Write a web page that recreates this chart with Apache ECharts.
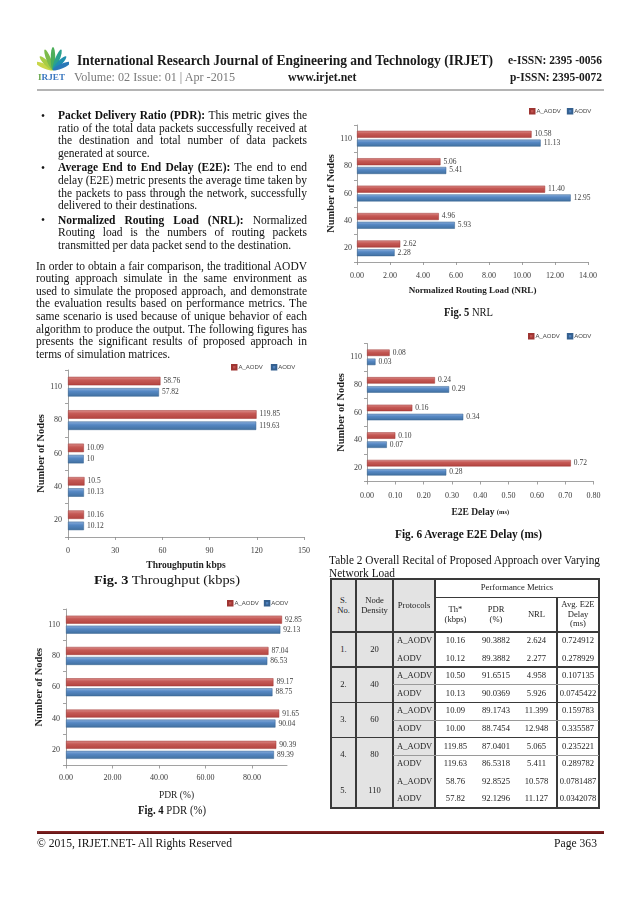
<!DOCTYPE html>
<html>
<head>
<meta charset="utf-8">
<title>IRJET page 363</title>
<script src="https://cdn.jsdelivr.net/npm/echarts/dist/echarts.min.js"></script>
<style>
html,body{margin:0;padding:0;background:#fff;}
#page{position:relative;width:638px;height:902px;overflow:hidden;background:#fff;font-family:'Liberation Serif','DejaVu Serif',serif;color:#141414;}
#chart{position:absolute;left:0;top:0;width:638px;height:902px;}
.t{position:absolute;white-space:nowrap;line-height:14px;height:14px;transform-origin:0 50%;}
.ln{position:absolute;white-space:nowrap;font-size:11.5px;line-height:13px;height:13px;transform-origin:0 50%;color:#111;}
.cell{position:absolute;display:flex;align-items:center;justify-content:center;text-align:center;font-size:8.6px;line-height:9.6px;color:#222;box-sizing:border-box;}
.rule{position:absolute;}
</style>
</head>
<body>
<div id="page">
  <div id="chart"></div>
  <svg id="logo" style="position:absolute;left:37px;top:42px" width="32" height="30" viewBox="0 0 32 30"></svg>
</div>
<script>
// ---------------- data ----------------
const nodeCats = ['20', '40', '60', '80', '110'];
const seriesNames = ['A_AODV', 'AODV'];

const thrA = [10.16, 10.5, 10.09, 119.85, 58.76];
const thrB = [10.12, 10.13, 10, 119.63, 57.82];
const pdrA = [90.39, 91.65, 89.17, 87.04, 92.85];
const pdrB = [89.39, 90.04, 88.75, 86.53, 92.13];
const nrlA = [2.62, 4.96, 11.40, 5.06, 10.58];
const nrlB = [2.28, 5.93, 12.95, 5.41, 11.13];
const e2eA = [0.72, 0.10, 0.16, 0.24, 0.08];
const e2eB = [0.28, 0.07, 0.34, 0.29, 0.03];

// value axis ranges (min 0, step, max)
const thrAxis = [0, 30, 150];
const pdrAxis = [0, 20, 95];
const nrlAxis = [0, 2, 14];
const e2eAxis = [0, 0.1, 0.8];

// table 2
const tblSNo = ['1.', '2.', '3.', '4.', '5.'];
const tblDensity = ['20', '40', '60', '80', '110'];
const tblProto = ['A_AODV', 'AODV'];
const tblTh = [['10.16','10.12'],['10.50','10.13'],['10.09','10.00'],['119.85','119.63'],['58.76','57.82']];
const tblPdr = [['90.3882','89.3882'],['91.6515','90.0369'],['89.1743','88.7454'],['87.0401','86.5318'],['92.8525','92.1296']];
const tblNrl = [['2.624','2.277'],['4.958','5.926'],['11.399','12.948'],['5.065','5.411'],['10.578','11.127']];
const tblE2e = [['0.724912','0.278929'],['0.107135','0.0745422'],['0.159783','0.335587'],['0.235221','0.289782'],['0.0781487','0.0342078']];

// ---------------- page text ----------------
const page = document.getElementById('page');
const SERIF = "'Liberation Serif','DejaVu Serif',serif";

function addText(html, x, yc, o) {
  o = o || {};
  const el = document.createElement('div');
  el.className = 't';
  el.innerHTML = html;
  el.style.fontSize = (o.size || 12) + 'px';
  if (o.weight) el.style.fontWeight = o.weight;
  if (o.color) el.style.color = o.color;
  if (o.family) el.style.fontFamily = o.family;
  el.style.top = (yc - 7) + 'px';
  el.style.left = '0px';
  page.appendChild(el);
  const nat = el.getBoundingClientRect().width;
  const w = o.w || nat;
  let left = x;
  if (o.align === 'center') left = x - w / 2;
  else if (o.align === 'right') left = x - w;
  el.style.left = left + 'px';
  if (o.w) el.style.transform = 'scaleX(' + (o.w / nat) + ')';
  return el;
}

function addLine(html, x, yc, w, last) {
  const el = document.createElement('div');
  el.className = 'ln';
  el.style.left = x + 'px';
  el.style.top = (yc - 6.5) + 'px';
  el.innerHTML = '<span>' + html + '</span>';
  page.appendChild(el);
  const nat = el.firstChild.getBoundingClientRect().width;
  if (last) {
    if (nat > w) el.style.transform = 'scaleX(' + (w / nat) + ')';
    return;
  }
  if (nat > w) {
    el.style.transform = 'scaleX(' + (w / nat) + ')';
  } else {
    const spaces = (el.textContent.match(/ /g) || []).length;
    if (spaces) el.firstChild.style.wordSpacing = ((w - nat) / spaces) + 'px';
  }
}

// header
addText('International Research Journal of Engineering and Technology (IRJET)', 77, 59.5, {size: 15, weight: 'bold', w: 416, color: '#1a1a1a'});
addText('e-ISSN: 2395 -0056', 508, 59.5, {size: 12, weight: 'bold', w: 94, color: '#1a1a1a'});
addText('Volume: 02 Issue: 01 | Apr -2015', 74, 77, {size: 12, w: 161, color: '#7a7a7a'});
addText('www.irjet.net', 287.5, 77, {size: 12, weight: 'bold', w: 68.5, color: '#1a1a1a'});
addText('p-ISSN: 2395-0072', 510, 77, {size: 12, weight: 'bold', w: 92, color: '#1a1a1a'});
addText('<span style="color:#6aa84f">I</span>RJET', 38, 77, {size: 9, weight: 'bold', w: 27, color: '#3b78c0'});

function rule(x, y, w, h, bg) {
  const d = document.createElement('div');
  d.className = 'rule';
  d.style.cssText = 'left:' + x + 'px;top:' + y + 'px;width:' + w + 'px;height:' + h + 'px;background:' + bg + ';';
  page.appendChild(d);
}
rule(37, 88.5, 567, 2, '#b4b4b4');
rule(37, 831, 567, 3.2, 'linear-gradient(#8e2a2a,#5a1010)');
addText('© 2015, IRJET.NET- All Rights Reserved', 37, 843, {size: 11.5, w: 195});
addText('Page 363', 597, 843, {size: 11.5, w: 43, align: 'right'});

// logo leaves
(function () {
  const svg = document.getElementById('logo');
  const cols = ['#c9d64a', '#a8cc45', '#7dbb4a', '#4dae5a', '#2aa18e', '#1f8fae', '#2a78b8'];
  const angs = [-66, -44, -22, 0, 22, 44, 66];
  let s = '';
  angs.forEach((a, i) => {
    const ry = i === 3 ? 11.5 : (i === 2 || i === 4 ? 11 : 9.5);
    s += '<ellipse cx="16" cy="' + (28 - ry) + '" rx="2.3" ry="' + ry + '" fill="' + cols[i] + '" transform="rotate(' + a + ' 16 28)"/>';
  });
  svg.innerHTML = s;
})();

// left column text
const L = 12.6;
function yAt(i) { return 115.5 + i * L + (i >= 4 ? 2 : 0) + (i >= 8 ? 2 : 0) + (i >= 11 ? 8 : 0); }
const bulletLines = [
  ['<b>Packet Delivery Ratio (PDR):</b> This metric gives the', 0],
  ['ratio of the total data packets successfully received at', 0],
  ['the destination and total number of data packets', 0],
  ['generated at source.', 1],
  ['<b>Average End to End Delay (E2E):</b> The end to end', 0],
  ['delay (E2E) metric presents the average time taken by', 0],
  ['the packets to pass through the network, successfully', 0],
  ['delivered to their destinations.', 1],
  ['<b>Normalized Routing Load (NRL):</b> Normalized', 0],
  ['Routing load is the numbers of routing packets', 0],
  ['transmitted per data packet send to the destination.', 1]
];
bulletLines.forEach((l, i) => addLine(l[0], 58, yAt(i), 249, l[1]));
[0, 4, 8].forEach(i => addText('&bull;', 41, yAt(i), {size: 11.5}));
const paraLines = [
  'In order to obtain a fair comparison, the traditional AODV',
  'routing approach simulate in the same environment as',
  'used to simulate the proposed approach, and demonstrate',
  'the evaluation results based on performance metrics. The',
  'same scenario is used because of unique behavior of each',
  'algorithm to produce the output. The following figures has',
  'presents the significant results of proposed approach in',
  'terms of simulation matrices.'
];
paraLines.forEach((l, i) => addLine(l, 36, yAt(11 + i), 271, i === paraLines.length - 1));

// captions
addText('<b>Fig. 3</b> Throughput (kbps)', 167, 580, {size: 12, w: 146, align: 'center'});
addText('<b>Fig. 4</b> PDR (%)', 172, 810, {size: 12, w: 68, align: 'center'});
addText('<b>Fig. 5</b> NRL', 468, 312, {size: 12, w: 49, align: 'center'});
addText('<b>Fig. 6 Average E2E Delay (ms)</b>', 468, 534, {size: 12, w: 147, align: 'center'});
addText('Table 2 Overall Recital of Proposed Approach over Varying', 329, 560, {size: 12, w: 271});
addText('Network Load', 329, 572.5, {size: 12, w: 66});

// ---------------- table ----------------
(function () {
  const cx = [331, 356, 393, 435, 476, 516, 557, 599];
  const yTop = 579, yMid = 597, yHead = 632, rh = 17.6;
  const GRAY = '#e3e3e3';
  function cell(x0, x1, y0, y1, html, bg, left) {
    const d = document.createElement('div');
    d.className = 'cell';
    d.style.cssText += 'left:' + x0 + 'px;top:' + y0 + 'px;width:' + (x1 - x0) + 'px;height:' + (y1 - y0) + 'px;' +
      (bg ? 'background:' + bg + ';' : '') + (left ? 'justify-content:flex-start;padding-left:4px;' : '');
    d.innerHTML = html;
    page.appendChild(d);
  }
  cell(cx[0], cx[1], yTop, yHead, 'S.<br>No.', GRAY);
  cell(cx[1], cx[2], yTop, yHead, 'Node<br>Density', GRAY);
  cell(cx[2], cx[3], yTop, yHead, 'Protocols', GRAY);
  cell(cx[3], cx[7], yTop, yMid, 'Performance Metrics');
  cell(cx[3], cx[4], yMid, yHead, 'Th*<br>(kbps)');
  cell(cx[4], cx[5], yMid, yHead, 'PDR<br>(%)');
  cell(cx[5], cx[6], yMid, yHead, 'NRL');
  cell(cx[6], cx[7], yMid, yHead, 'Avg. E2E<br>Delay<br>(ms)');
  for (let g = 0; g < 5; g++) {
    const gy = yHead + g * 2 * rh;
    cell(cx[0], cx[1], gy, gy + 2 * rh, tblSNo[g], GRAY);
    cell(cx[1], cx[2], gy, gy + 2 * rh, tblDensity[g], GRAY);
    for (let r = 0; r < 2; r++) {
      const y0 = gy + r * rh, y1 = y0 + rh;
      cell(cx[2], cx[3], y0, y1, tblProto[r], GRAY, true);
      cell(cx[3], cx[4], y0, y1, tblTh[g][r]);
      cell(cx[4], cx[5], y0, y1, tblPdr[g][r]);
      cell(cx[5], cx[6], y0, y1, tblNrl[g][r]);
      cell(cx[6], cx[7], y0, y1, tblE2e[g][r]);
    }
  }
  const D = '#3a3a3a', Lg = '#9a9a9a';
  const yEnd = yHead + 10 * rh;
  // outer frame
  rule(cx[0] - 0.75, yTop - 0.75, cx[7] - cx[0] + 1.5, 1.5, D);
  rule(cx[0] - 0.75, yEnd - 0.75, cx[7] - cx[0] + 1.5, 1.5, D);
  rule(cx[0] - 0.75, yTop - 0.75, 1.5, yEnd - yTop + 1.5, D);
  rule(cx[7] - 0.75, yTop - 0.75, 1.5, yEnd - yTop + 1.5, D);
  // verticals
  [cx[1], cx[2], cx[3]].forEach(x => rule(x - 0.6, yTop, 1.2, yEnd - yTop, D));
  rule(cx[6] - 0.6, yMid, 1.2, yEnd - yMid, D);
  // horizontals
  rule(cx[3], yMid - 0.5, cx[7] - cx[3], 1, D);
  rule(cx[0], yHead - 0.75, cx[7] - cx[0], 1.5, D);
  [1, 2, 3].forEach(g => rule(cx[0], yHead + g * 2 * rh - 0.75, cx[7] - cx[0], 1.5, D));
  [1, 2, 3].forEach(g => rule(cx[2], yHead + (g * 2 + 1) * rh - 0.5, cx[7] - cx[2], 1, Lg));
})();

// ---------------- charts ----------------
const RED = '#C0504D', BLUE = '#4F81BD';
function barFill(c) {
  const stops = c === RED
    ? ['#dc8e8b', '#c55955', '#b3433f']
    : ['#8db0dc', '#5587c3', '#41709f'];
  return {type: 'linear', x: 0, y: 0, x2: 0, y2: 1,
    colorStops: [{offset: 0, color: stops[0]}, {offset: 0.4, color: stops[1]}, {offset: 1, color: stops[2]}]};
}

const panels = [
  {a: thrA, b: thrB, ax: thrAxis, tickDec: -1, labDec: -1, hideMax: false,
   xName: 'Throughputin kbps', xNameStyle: {fontSize: 9.5, fontWeight: 'bold'},
   grid: {left: 68, top: 370, width: 236, height: 167}, legend: {left: 231, top: 364, gap: 8},
   barWidth: 8.5, barGap: '32%', yNameGap: 19.5, yLabMargin: 6, xLabMargin: 10, xNameGap: 24},
  {a: pdrA, b: pdrB, ax: pdrAxis, tickDec: 2, labDec: 2, hideMax: true,
   xName: 'PDR (%)', xNameStyle: {fontSize: 9.5, fontWeight: 'normal'},
   grid: {left: 66, top: 609, width: 221, height: 156.5}, legend: {left: 227, top: 600, gap: 5},
   barWidth: 8, barGap: '25%', yNameGap: 17, yLabMargin: 6, xLabMargin: 8, xNameGap: 25},
  {a: nrlA, b: nrlB, ax: nrlAxis, tickDec: 2, labDec: 2, hideMax: false,
   xName: 'Normalized Routing Load (NRL)', xNameStyle: {fontSize: 9, fontWeight: 'bold'},
   grid: {left: 357, top: 125, width: 231, height: 137}, legend: {left: 529, top: 108, gap: 6},
   barWidth: 7, barGap: '25%', yNameGap: 16.5, yLabMargin: 5, xLabMargin: 10, xNameGap: 24},
  {a: e2eA, b: e2eB, ax: e2eAxis, tickDec: 2, labDec: 2, hideMax: false,
   xName: '{a|E2E Delay }{b|(ms)}', xNameStyle: {rich: {a: {fontSize: 9.5, fontWeight: 'bold', fontFamily: SERIF, color: '#1e1e1e'}, b: {fontSize: 6.5, fontWeight: 'bold', fontFamily: SERIF, color: '#1e1e1e'}}},
   grid: {left: 367, top: 343.5, width: 226.5, height: 138}, legend: {left: 528, top: 333, gap: 7},
   barWidth: 6.5, barGap: '40%', yNameGap: 17.5, yLabMargin: 5, xLabMargin: 10, xNameGap: 26}
];

const grids = [], xAxes = [], yAxes = [], series = [], legends = [];
const axisCol = '#8a8a8a';
panels.forEach((p, i) => {
  grids.push(Object.assign({containLabel: false, outerBoundsMode: 'none'}, p.grid));
  xAxes.push({
    gridIndex: i, type: 'value', min: p.ax[0], interval: p.ax[1], max: p.ax[2],
    axisLine: {show: true, lineStyle: {color: axisCol, width: 0.8}},
    axisTick: {show: true, length: 3, lineStyle: {color: axisCol, width: 0.8}},
    splitLine: {show: false},
    axisLabel: {fontSize: 8, color: '#3a3a3a', fontFamily: SERIF, margin: p.xLabMargin, showMaxLabel: !p.hideMax,
      formatter: v => p.tickDec >= 0 ? v.toFixed(p.tickDec) : String(v)},
    name: p.xName, nameLocation: 'middle', nameGap: p.xNameGap,
    nameTextStyle: Object.assign({fontFamily: SERIF, color: '#1e1e1e'}, p.xNameStyle)
  });
  yAxes.push({
    gridIndex: i, type: 'category', data: nodeCats,
    axisLine: {show: true, lineStyle: {color: axisCol, width: 0.8}},
    axisTick: {show: true, length: 3, lineStyle: {color: axisCol, width: 0.8}},
    axisLabel: {fontSize: 8, color: '#3a3a3a', fontFamily: SERIF, margin: p.yLabMargin},
    name: 'Number of Nodes', nameLocation: 'middle', nameRotate: 90, nameGap: p.yNameGap,
    nameTextStyle: {fontSize: 10.5, fontWeight: 'bold', fontFamily: SERIF, color: '#1e1e1e'}
  });
  [[p.a, RED, '#9e3532'], [p.b, BLUE, '#35608f']].forEach((s, k) => {
    series.push({
      type: 'bar', name: seriesNames[k], xAxisIndex: i, yAxisIndex: i, data: s[0],
      barWidth: p.barWidth, barGap: p.barGap,
      itemStyle: {color: barFill(s[1]), borderColor: s[2], borderWidth: 0.5},
      label: {show: true, position: 'right', distance: 3, fontSize: 7.5, color: '#404040', fontFamily: SERIF,
        formatter: d => p.labDec >= 0 ? d.value.toFixed(p.labDec) : String(d.value)},
      emphasis: {disabled: true}
    });
  });
  legends.push({
    left: p.legend.left, top: p.legend.top, padding: 0, orient: 'horizontal',
    itemWidth: 4.5, itemHeight: 4.5, itemGap: p.legend.gap, icon: 'rect', selectedMode: false,
    textStyle: {fontSize: 6, color: '#444', fontFamily: "'Liberation Sans',Arial,sans-serif", padding: [0, 0, 0, -3]},
    data: [{name: seriesNames[0], itemStyle: {color: RED}}, {name: seriesNames[1], itemStyle: {color: BLUE}}]
  });
});

const chart = echarts.init(document.getElementById('chart'), null, {renderer: 'canvas'});
chart.setOption({
  animation: false,
  backgroundColor: 'transparent',
  grid: grids, xAxis: xAxes, yAxis: yAxes, legend: legends, series: series,
  tooltip: {show: false}
});
</script>
</body>
</html>
